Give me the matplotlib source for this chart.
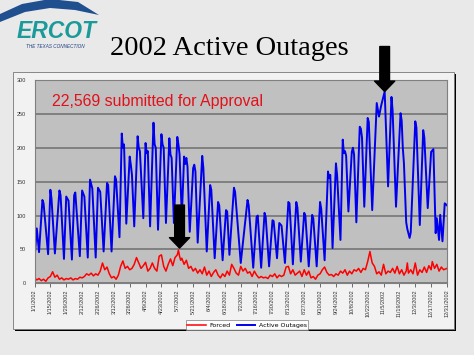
import numpy as np
import pandas as pd
import matplotlib
matplotlib.use("Agg")
import matplotlib.pyplot as plt
from matplotlib.patches import Rectangle, Polygon

# values, days counted from 1/1/2002
active_days = [0, 2, 4, 7, 8, 12, 14, 15, 18, 22, 23, 26, 28, 30, 33, 35, 36, 40, 42, 44,
               47, 49, 51, 54, 56, 58, 61, 64, 65, 68, 71, 72, 75, 77, 78, 79, 81, 84, 85, 86,
               88, 91, 92, 93, 96, 98, 99, 100, 102, 105, 106, 107, 109, 112, 113, 114, 116, 119, 120, 121,
               123, 126, 127, 128, 130, 132, 133, 134, 135, 137, 140, 141, 142, 144, 148, 149, 152, 155, 156, 159,
               162, 163, 166, 169, 170, 172, 176, 177, 182, 188, 189, 193, 196, 197, 200, 203, 204, 207, 210, 211,
               214, 216, 218, 221, 224, 225, 228, 231, 232, 235, 238, 239, 242, 245, 246, 249, 252, 253, 256, 259,
               260, 261, 263, 266, 267, 270, 272, 273, 274, 275, 277, 280, 281, 282, 284, 287, 288, 289, 291, 294,
               295, 298, 302, 304, 306, 309, 312, 315, 316, 319, 323, 324, 325, 326, 328, 329, 331, 332, 336, 337,
               340, 343, 344, 347, 350, 352, 354, 355, 357, 358, 360, 362, 364]
active_vals = [34, 81, 46, 123, 118, 43, 138, 125, 44, 137, 130, 36, 128, 122, 35, 130, 134, 40, 137, 128,
               38, 153, 140, 38, 141, 135, 47, 148, 145, 47, 158, 153, 68, 221, 200, 205, 88, 187, 175, 160,
               84, 217, 200, 195, 96, 207, 192, 195, 84, 237, 205, 200, 79, 220, 205, 200, 89, 214, 190, 185,
               89, 216, 205, 190, 98, 187, 176, 185, 172, 76, 170, 175, 165, 60, 188, 170, 47, 145, 138, 37,
               120, 115, 34, 108, 106, 42, 141, 135, 30, 123, 115, 23, 98, 100, 23, 104, 98, 25, 93, 92,
               37, 89, 85, 30, 120, 118, 28, 120, 112, 32, 104, 100, 25, 101, 96, 25, 120, 110, 34, 165,
               155, 160, 52, 177, 160, 64, 212, 192, 195, 188, 106, 194, 200, 190, 90, 231, 228, 215, 113, 244,
               238, 108, 266, 246, 263, 283, 143, 275, 255, 113, 251, 240, 200, 177, 90, 80, 67, 75, 239, 230,
               86, 226, 215, 111, 194, 198, 74, 96, 64, 101, 62, 118, 115]

forced_days = [0, 2, 4, 6, 8, 10, 12, 14, 16, 18, 20, 22, 24, 26, 28, 30, 32, 34, 36, 38,
               40, 42, 44, 46, 48, 50, 52, 54, 56, 58, 60, 62, 64, 66, 68, 70, 72, 74, 76, 78,
               80, 82, 84, 86, 88, 90, 92, 94, 96, 98, 100, 102, 104, 106, 108, 110, 112, 114, 116, 118,
               120, 122, 124, 126, 127, 128, 129, 130, 132, 134, 136, 138, 140, 142, 144, 146, 148, 150, 152, 154,
               156, 158, 160, 162, 164, 166, 168, 170, 172, 174, 176, 178, 180, 182, 184, 186, 188, 190, 192, 194,
               196, 198, 200, 202, 204, 206, 208, 210, 212, 214, 216, 218, 220, 222, 224, 226, 228, 230, 232, 234,
               236, 238, 240, 242, 244, 246, 248, 250, 252, 254, 256, 258, 260, 262, 264, 266, 268, 270, 272, 274,
               276, 278, 280, 282, 284, 286, 288, 290, 292, 294, 296, 297, 298, 300, 302, 304, 306, 308, 310, 312,
               314, 316, 318, 320, 322, 324, 326, 328, 329, 330, 332, 334, 336, 338, 340, 342, 344, 346, 348, 350,
               351, 353, 355, 357, 359, 361, 364]
forced_vals = [8, 5, 7, 4, 6, 3, 8, 10, 17, 9, 12, 6, 8, 5, 7, 6, 8, 5, 7, 6,
               9, 8, 10, 14, 12, 15, 11, 14, 12, 18, 30, 20, 24, 14, 8, 10, 6, 12, 25, 33,
               22, 25, 20, 22, 28, 38, 30, 22, 26, 31, 18, 22, 30, 22, 18, 40, 42, 25, 18, 28,
               36, 26, 38, 42, 49, 40, 34, 37, 28, 34, 22, 25, 18, 22, 15, 20, 14, 24, 12, 18,
               10, 16, 20, 12, 8, 14, 10, 18, 12, 28, 22, 15, 12, 25, 18, 22, 15, 17, 10, 18,
               12, 8, 10, 8, 9, 7, 12, 10, 14, 8, 12, 10, 12, 24, 25, 14, 20, 12, 15, 18,
               10, 20, 12, 18, 8, 10, 6, 12, 14, 20, 24, 16, 12, 13, 10, 14, 12, 18, 15, 20,
               12, 18, 14, 20, 18, 22, 16, 22, 20, 32, 47, 38, 30, 25, 14, 17, 12, 28, 14, 18,
               16, 22, 15, 25, 14, 20, 12, 18, 30, 15, 20, 14, 30, 12, 20, 16, 24, 16, 26, 20,
               32, 22, 28, 18, 24, 20, 22]

start = pd.Timestamp("2002-01-01")
tick_dates = pd.date_range("2002-01-01", "2002-12-31", freq="14D")
tick_labels = [f"{d.month}/{d.day}/{d.year}" for d in tick_dates]
y_ticks = [0, 50, 100, 150, 200, 250, 300]

active_x = start + pd.to_timedelta(active_days, unit="D")
forced_x = start + pd.to_timedelta(forced_days, unit="D")

fig = plt.figure(figsize=(4.74, 3.55), dpi=100)
fig.patch.set_facecolor("#e9e9e9")

# page decoration in pixel coordinates
bg = fig.add_axes([0, 0, 1, 1], zorder=0)
bg.set_xlim(0, 474)
bg.set_ylim(355, 0)
bg.axis("off")
bg.add_patch(Rectangle((15, 74), 441, 257, facecolor="black", edgecolor="none"))
bg.add_patch(Rectangle((13, 72), 441, 257, facecolor="#f2f2f2", edgecolor="#777777", lw=0.6))

# logo
bg.add_patch(Polygon([(0, 14), (22, 4), (50, -1), (78, 2), (99, 15),
                      (75, 10), (50, 8), (25, 12), (0, 22)],
                     facecolor="#1f4f8f", edgecolor="none"))
bg.text(57, 37.5, "ERCOT", color="#1b9a9a", family="Liberation Sans", weight="bold",
        style="italic", size=16.5, ha="center", va="baseline")
bg.text(55, 47.5, "THE TEXAS CONNECTION", color="#1f3f7f", family="Liberation Sans",
        style="italic", size=3.3, ha="center", va="baseline")

bg.text(229, 55, "2002 Active Outages", family="Liberation Serif", size=20.5,
        ha="center", va="baseline")

ax = fig.add_axes([34.5 / 474, 1 - 283.3 / 355, (447 - 34.5) / 474, (283.3 - 80) / 355], zorder=1)
ax.set_facecolor("#c0c0c0")
ax.yaxis.grid(True, color="#6e6e6e", lw=1.1)
ax.set_axisbelow(True)

ax.plot(forced_x, forced_vals, color="#ff0000", lw=1.1, label="Forced")
ax.plot(active_x, active_vals, color="#0000ee", lw=1.4, label="Active Outages")

ax.set_xlim(start, start + pd.Timedelta(days=364))
ax.set_ylim(0, 300)
ax.set_xticks(tick_dates)
ax.set_xticklabels(tick_labels, rotation=90, fontsize=4, family="Liberation Sans", color="#333333")
ax.set_yticks(y_ticks)
ax.set_yticklabels([str(v) for v in y_ticks], fontsize=4, family="Liberation Sans", color="#333333")
ax.tick_params(axis="x", length=3, width=0.6, color="#555555", pad=1.5)
ax.tick_params(axis="y", length=0, pad=6)
for s in ax.spines.values():
    s.set_color("#808080")
    s.set_linewidth(0.8)

fig.text(52 / 474, 1 - 106 / 355, "22,569 submitted for Approval", color="#e3101a",
         family="Liberation Sans", size=11.4, va="baseline")

arrow = dict(facecolor="black", edgecolor="black", width=7, headwidth=14.5, headlength=7.5, shrink=0)
ax.annotate("", xy=(start + pd.Timedelta(days=309), 283), xytext=(0, 45),
            textcoords="offset pixels", arrowprops=arrow, annotation_clip=False)
ax.annotate("", xy=(start + pd.Timedelta(days=128), 52), xytext=(0, 43),
            textcoords="offset pixels", arrowprops=arrow, annotation_clip=False)

leg = ax.legend(loc="center", bbox_to_anchor=(247 / 474, 1 - 325 / 355), bbox_transform=fig.transFigure,
                ncol=2, fontsize=4.5, frameon=True, fancybox=False, handlelength=3,
                borderpad=0.3, columnspacing=1, handletextpad=0.5)
leg.get_frame().set_edgecolor("#777777")
leg.get_frame().set_linewidth(0.6)

fig.savefig("out.png", dpi=100, facecolor=fig.get_facecolor())
